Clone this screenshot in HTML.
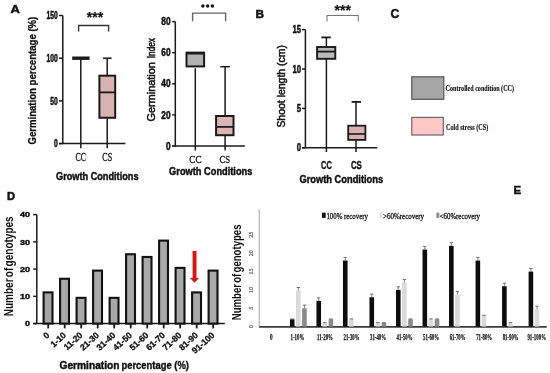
<!DOCTYPE html>
<html><head><meta charset="utf-8"><style>
html,body{margin:0;padding:0;background:#fff;}
svg{display:block;will-change:transform;filter:blur(0.35px);}
</style></head><body>
<svg width="550" height="373" viewBox="0 0 550 373">
<rect width="550" height="373" fill="#fff"/>
<text x="10.6" y="12.6" font-size="11.2" font-weight="bold" font-family='"Liberation Sans", sans-serif' text-anchor="start" fill="#111" textLength="9.4" lengthAdjust="spacingAndGlyphs" stroke="#111" stroke-width="0.45">A</text>
<line x1="62.8" y1="15.5" x2="62.8" y2="143.6" stroke="#1a1a1a" stroke-width="1.5" stroke-linecap="butt"/>
<line x1="59" y1="15.5" x2="62.8" y2="15.5" stroke="#1a1a1a" stroke-width="1.5" stroke-linecap="butt"/>
<text x="57.7" y="19.1" font-size="10.2" font-weight="bold" font-family='"Liberation Sans", sans-serif' text-anchor="end" fill="#111" textLength="11.25" lengthAdjust="spacingAndGlyphs" stroke="#111" stroke-width="0.5">150</text>
<line x1="59" y1="58.2" x2="62.8" y2="58.2" stroke="#1a1a1a" stroke-width="1.5" stroke-linecap="butt"/>
<text x="57.7" y="61.800000000000004" font-size="10.2" font-weight="bold" font-family='"Liberation Sans", sans-serif' text-anchor="end" fill="#111" textLength="11.25" lengthAdjust="spacingAndGlyphs" stroke="#111" stroke-width="0.5">100</text>
<line x1="59" y1="100.9" x2="62.8" y2="100.9" stroke="#1a1a1a" stroke-width="1.5" stroke-linecap="butt"/>
<text x="57.7" y="104.5" font-size="10.2" font-weight="bold" font-family='"Liberation Sans", sans-serif' text-anchor="end" fill="#111" textLength="7.5" lengthAdjust="spacingAndGlyphs" stroke="#111" stroke-width="0.5">50</text>
<line x1="59" y1="143.6" x2="62.8" y2="143.6" stroke="#1a1a1a" stroke-width="1.5" stroke-linecap="butt"/>
<text x="57.7" y="147.2" font-size="10.2" font-weight="bold" font-family='"Liberation Sans", sans-serif' text-anchor="end" fill="#111" textLength="3.75" lengthAdjust="spacingAndGlyphs" stroke="#111" stroke-width="0.5">0</text>
<line x1="59" y1="143.6" x2="125.4" y2="143.6" stroke="#1a1a1a" stroke-width="1.5" stroke-linecap="butt"/>
<line x1="80.8" y1="143.6" x2="80.8" y2="148.3" stroke="#1a1a1a" stroke-width="1.5" stroke-linecap="butt"/>
<line x1="107.2" y1="143.6" x2="107.2" y2="148.3" stroke="#1a1a1a" stroke-width="1.5" stroke-linecap="butt"/>
<line x1="80.8" y1="58.2" x2="80.8" y2="143.6" stroke="#1a1a1a" stroke-width="1.5" stroke-linecap="butt"/>
<line x1="72.2" y1="58.2" x2="89.6" y2="58.2" stroke="#1a1a1a" stroke-width="3.4" stroke-linecap="butt"/>
<line x1="107.2" y1="58.2" x2="107.2" y2="143.6" stroke="#1a1a1a" stroke-width="1.5" stroke-linecap="butt"/>
<line x1="103" y1="58.2" x2="111.6" y2="58.2" stroke="#1a1a1a" stroke-width="1.5" stroke-linecap="butt"/>
<rect x="99.4" y="75.68" width="15.8" height="42.09999999999999" fill="#dab2b2" stroke="#1a1a1a" stroke-width="2.0"/>
<line x1="99.4" y1="92.35999999999999" x2="115" y2="92.35999999999999" stroke="#1a1a1a" stroke-width="1.8" stroke-linecap="butt"/>
<path d="M78.6 31.5 V25.5 H108.6 V31.5" fill="none" stroke="#333" stroke-width="1.4"/>
<text x="95" y="22.3" font-size="14" font-weight="bold" font-family='"Liberation Sans", sans-serif' text-anchor="middle" fill="#111" stroke="#111" stroke-width="0.25">***</text>
<text x="35.9" y="144.5" font-size="11" font-weight="bold" font-family='"Liberation Sans", sans-serif' text-anchor="start" fill="#111" textLength="127.8" lengthAdjust="spacingAndGlyphs" transform="rotate(-90 35.9 144.5)" stroke="#111" stroke-width="0.3">Germination percentage (%)</text>
<text x="75.6" y="161" font-size="11.5" font-weight="normal" font-family='"Liberation Serif", serif' text-anchor="start" fill="#111" textLength="10.5" lengthAdjust="spacingAndGlyphs" stroke="#111" stroke-width="0.3">CC</text>
<text x="102.3" y="161" font-size="11.5" font-weight="normal" font-family='"Liberation Serif", serif' text-anchor="start" fill="#111" textLength="9.9" lengthAdjust="spacingAndGlyphs" stroke="#111" stroke-width="0.3">CS</text>
<text x="56" y="179.5" font-size="10.3" font-weight="bold" font-family='"Liberation Sans", sans-serif' text-anchor="start" fill="#111" textLength="82.5" lengthAdjust="spacingAndGlyphs" stroke="#111" stroke-width="0.45">Growth Conditions</text>
<line x1="175.3" y1="21.599999999999994" x2="175.3" y2="146.0" stroke="#1a1a1a" stroke-width="1.5" stroke-linecap="butt"/>
<line x1="172.2" y1="21.599999999999994" x2="175.3" y2="21.599999999999994" stroke="#1a1a1a" stroke-width="1.5" stroke-linecap="butt"/>
<text x="170.5" y="25.199999999999996" font-size="10.2" font-weight="bold" font-family='"Liberation Sans", sans-serif' text-anchor="end" fill="#111" textLength="9.2" lengthAdjust="spacingAndGlyphs" stroke="#111" stroke-width="0.5">80</text>
<line x1="172.2" y1="52.69999999999999" x2="175.3" y2="52.69999999999999" stroke="#1a1a1a" stroke-width="1.5" stroke-linecap="butt"/>
<text x="170.5" y="56.29999999999999" font-size="10.2" font-weight="bold" font-family='"Liberation Sans", sans-serif' text-anchor="end" fill="#111" textLength="9.2" lengthAdjust="spacingAndGlyphs" stroke="#111" stroke-width="0.5">60</text>
<line x1="172.2" y1="83.8" x2="175.3" y2="83.8" stroke="#1a1a1a" stroke-width="1.5" stroke-linecap="butt"/>
<text x="170.5" y="87.39999999999999" font-size="10.2" font-weight="bold" font-family='"Liberation Sans", sans-serif' text-anchor="end" fill="#111" textLength="9.2" lengthAdjust="spacingAndGlyphs" stroke="#111" stroke-width="0.5">40</text>
<line x1="172.2" y1="114.9" x2="175.3" y2="114.9" stroke="#1a1a1a" stroke-width="1.5" stroke-linecap="butt"/>
<text x="170.5" y="118.5" font-size="10.2" font-weight="bold" font-family='"Liberation Sans", sans-serif' text-anchor="end" fill="#111" textLength="9.2" lengthAdjust="spacingAndGlyphs" stroke="#111" stroke-width="0.5">20</text>
<line x1="172.2" y1="146.0" x2="175.3" y2="146.0" stroke="#1a1a1a" stroke-width="1.5" stroke-linecap="butt"/>
<text x="170.5" y="149.6" font-size="10.2" font-weight="bold" font-family='"Liberation Sans", sans-serif' text-anchor="end" fill="#111" textLength="4.6" lengthAdjust="spacingAndGlyphs" stroke="#111" stroke-width="0.5">0</text>
<line x1="172.2" y1="146.0" x2="244.8" y2="146.0" stroke="#1a1a1a" stroke-width="1.5" stroke-linecap="butt"/>
<line x1="195.3" y1="146.0" x2="195.3" y2="150.5" stroke="#1a1a1a" stroke-width="1.5" stroke-linecap="butt"/>
<line x1="225.1" y1="146.0" x2="225.1" y2="150.5" stroke="#1a1a1a" stroke-width="1.5" stroke-linecap="butt"/>
<line x1="195.3" y1="68.24999999999999" x2="195.3" y2="146.0" stroke="#1a1a1a" stroke-width="1.5" stroke-linecap="butt"/>
<rect x="186.5" y="52.69999999999999" width="17.6" height="13.700000000000017" fill="#b2b2b2" stroke="#1a1a1a" stroke-width="2.0"/>
<line x1="186.6" y1="53.19999999999999" x2="204.2" y2="53.19999999999999" stroke="#1a1a1a" stroke-width="2.6" stroke-linecap="butt"/>
<line x1="225.1" y1="66.695" x2="225.1" y2="146.0" stroke="#1a1a1a" stroke-width="1.5" stroke-linecap="butt"/>
<line x1="220.3" y1="66.695" x2="229.9" y2="66.695" stroke="#1a1a1a" stroke-width="1.5" stroke-linecap="butt"/>
<rect x="216.1" y="116.0" width="17.4" height="19.19999999999999" fill="#dcb4b4" stroke="#1a1a1a" stroke-width="2.0"/>
<line x1="216.2" y1="126.87349999999999" x2="233.6" y2="126.87349999999999" stroke="#1a1a1a" stroke-width="1.8" stroke-linecap="butt"/>
<path d="M192.6 21.2 V13.1 H225.6 V21.2" fill="none" stroke="#666" stroke-width="1.4"/>
<circle cx="202.9" cy="6" r="1.7" fill="#111"/><circle cx="207.7" cy="6" r="1.7" fill="#111"/><circle cx="212.4" cy="6" r="1.7" fill="#111"/>
<text x="155.3" y="121.6" font-size="10.2" font-weight="normal" font-family='"Liberation Sans", sans-serif' text-anchor="start" fill="#111" textLength="59.5" lengthAdjust="spacingAndGlyphs" transform="rotate(-90 155.3 121.6)" stroke="#111" stroke-width="0.5">Germination</text>
<text x="155.3" y="58.2" font-size="10.2" font-weight="normal" font-family='"Liberation Sans", sans-serif' text-anchor="start" fill="#111" textLength="20.2" lengthAdjust="spacingAndGlyphs" transform="rotate(-90 155.3 58.2)" stroke="#111" stroke-width="0.5">Index</text>
<text x="189.3" y="162.6" font-size="11" font-weight="normal" font-family='"Liberation Serif", serif' text-anchor="start" fill="#111" textLength="12.3" lengthAdjust="spacingAndGlyphs" stroke="#111" stroke-width="0.3">CC</text>
<text x="219.4" y="162.6" font-size="11" font-weight="normal" font-family='"Liberation Serif", serif' text-anchor="start" fill="#111" textLength="10.6" lengthAdjust="spacingAndGlyphs" stroke="#111" stroke-width="0.3">CS</text>
<text x="169.1" y="175.4" font-size="10.3" font-weight="bold" font-family='"Liberation Sans", sans-serif' text-anchor="start" fill="#111" textLength="83.3" lengthAdjust="spacingAndGlyphs" stroke="#111" stroke-width="0.45">Growth Conditions</text>
<text x="255.6" y="17.6" font-size="11.8" font-weight="bold" font-family='"Liberation Sans", sans-serif' text-anchor="start" fill="#111" stroke="#111" stroke-width="0.5">B</text>
<line x1="305.4" y1="29.599999999999994" x2="305.4" y2="147.8" stroke="#1a1a1a" stroke-width="1.5" stroke-linecap="butt"/>
<line x1="302" y1="29.599999999999994" x2="305.4" y2="29.599999999999994" stroke="#1a1a1a" stroke-width="1.5" stroke-linecap="butt"/>
<text x="301.0" y="33.199999999999996" font-size="10.2" font-weight="bold" font-family='"Liberation Sans", sans-serif' text-anchor="end" fill="#111" textLength="8.6" lengthAdjust="spacingAndGlyphs" stroke="#111" stroke-width="0.5">15</text>
<line x1="302" y1="69.0" x2="305.4" y2="69.0" stroke="#1a1a1a" stroke-width="1.5" stroke-linecap="butt"/>
<text x="301.0" y="72.6" font-size="10.2" font-weight="bold" font-family='"Liberation Sans", sans-serif' text-anchor="end" fill="#111" textLength="8.6" lengthAdjust="spacingAndGlyphs" stroke="#111" stroke-width="0.5">10</text>
<line x1="302" y1="108.4" x2="305.4" y2="108.4" stroke="#1a1a1a" stroke-width="1.5" stroke-linecap="butt"/>
<text x="301.0" y="112.0" font-size="10.2" font-weight="bold" font-family='"Liberation Sans", sans-serif' text-anchor="end" fill="#111" textLength="4.3" lengthAdjust="spacingAndGlyphs" stroke="#111" stroke-width="0.5">5</text>
<line x1="302" y1="147.8" x2="305.4" y2="147.8" stroke="#1a1a1a" stroke-width="1.5" stroke-linecap="butt"/>
<text x="301.0" y="151.4" font-size="10.2" font-weight="bold" font-family='"Liberation Sans", sans-serif' text-anchor="end" fill="#111" textLength="4.3" lengthAdjust="spacingAndGlyphs" stroke="#111" stroke-width="0.5">0</text>
<line x1="302" y1="147.8" x2="377.3" y2="147.8" stroke="#1a1a1a" stroke-width="1.5" stroke-linecap="butt"/>
<line x1="326.4" y1="147.8" x2="326.4" y2="152" stroke="#1a1a1a" stroke-width="1.5" stroke-linecap="butt"/>
<line x1="356.0" y1="147.8" x2="356.0" y2="152" stroke="#1a1a1a" stroke-width="1.5" stroke-linecap="butt"/>
<line x1="326.4" y1="37.480000000000004" x2="326.4" y2="147.8" stroke="#1a1a1a" stroke-width="1.5" stroke-linecap="butt"/>
<line x1="321.3" y1="37.4" x2="330.8" y2="37.4" stroke="#1a1a1a" stroke-width="1.8" stroke-linecap="butt"/>
<rect x="317.1" y="47.0" width="18.2" height="11.799999999999997" fill="#bababa" stroke="#1a1a1a" stroke-width="1.9"/>
<line x1="317.1" y1="51.6" x2="335.3" y2="51.6" stroke="#1a1a1a" stroke-width="1.8" stroke-linecap="butt"/>
<line x1="356.0" y1="101.9" x2="356.0" y2="147.8" stroke="#1a1a1a" stroke-width="1.5" stroke-linecap="butt"/>
<line x1="351.6" y1="101.9" x2="361.0" y2="101.9" stroke="#1a1a1a" stroke-width="1.8" stroke-linecap="butt"/>
<rect x="348.2" y="125.7" width="17.2" height="14.200000000000003" fill="#dab0b0" stroke="#1a1a1a" stroke-width="1.8"/>
<line x1="348.2" y1="134" x2="365.4" y2="134" stroke="#1a1a1a" stroke-width="1.6" stroke-linecap="butt"/>
<path d="M327 21.5 V15.5 H358.3 V21.5" fill="none" stroke="#777" stroke-width="1.1"/>
<text x="342.8" y="14.8" font-size="14" font-weight="bold" font-family='"Liberation Sans", sans-serif' text-anchor="middle" fill="#111" stroke="#111" stroke-width="0.2">***</text>
<text x="285.2" y="127.6" font-size="10.4" font-weight="normal" font-family='"Liberation Sans", sans-serif' text-anchor="start" fill="#111" textLength="82.6" lengthAdjust="spacingAndGlyphs" transform="rotate(-90 285.2 127.6)" stroke="#111" stroke-width="0.5">Shoot length (cm)</text>
<text x="321.0" y="168.6" font-size="10.2" font-weight="bold" font-family='"Liberation Sans", sans-serif' text-anchor="start" fill="#111" textLength="10.8" lengthAdjust="spacingAndGlyphs" stroke="#111" stroke-width="0.35">CC</text>
<text x="350.9" y="168.6" font-size="10.2" font-weight="bold" font-family='"Liberation Sans", sans-serif' text-anchor="start" fill="#111" textLength="10.8" lengthAdjust="spacingAndGlyphs" stroke="#111" stroke-width="0.35">CS</text>
<text x="299.5" y="183.2" font-size="10.3" font-weight="bold" font-family='"Liberation Sans", sans-serif' text-anchor="start" fill="#111" textLength="83.6" lengthAdjust="spacingAndGlyphs" stroke="#111" stroke-width="0.45">Growth Conditions</text>
<text x="390.4" y="17.6" font-size="12.2" font-weight="bold" font-family='"Liberation Sans", sans-serif' text-anchor="start" fill="#111" stroke="#111" stroke-width="0.5">C</text>
<rect x="411.8" y="76.8" width="32" height="22.5" fill="#a6a6a6" stroke="#555" stroke-width="1.2"/>
<rect x="411.8" y="117.4" width="31.5" height="17.6" fill="#ffc8c8" stroke="#666" stroke-width="1.2"/>
<text x="445.6" y="91" font-size="9" font-weight="bold" font-family='"Liberation Serif", serif' text-anchor="start" fill="#111" textLength="68.4" lengthAdjust="spacingAndGlyphs" stroke="#111" stroke-width="0.15">Controlled condition (CC)</text>
<text x="446" y="129.7" font-size="9" font-weight="bold" font-family='"Liberation Serif", serif' text-anchor="start" fill="#111" textLength="42.2" lengthAdjust="spacingAndGlyphs" stroke="#111" stroke-width="0.15">Cold stress (CS)</text>
<text x="7.0" y="199.6" font-size="11.2" font-weight="bold" font-family='"Liberation Sans", sans-serif' text-anchor="start" fill="#111" stroke="#111" stroke-width="0.5">D</text>
<line x1="36.8" y1="214.6" x2="36.8" y2="323.6" stroke="#1a1a1a" stroke-width="1.5" stroke-linecap="butt"/>
<line x1="33.2" y1="214.6" x2="36.8" y2="214.6" stroke="#1a1a1a" stroke-width="1.5" stroke-linecap="butt"/>
<text x="30" y="217.29999999999998" font-size="7.6" font-weight="bold" font-family='"Liberation Sans", sans-serif' text-anchor="end" fill="#111" textLength="10.0" lengthAdjust="spacingAndGlyphs" stroke="#111" stroke-width="0.45">40</text>
<line x1="33.2" y1="241.85000000000002" x2="36.8" y2="241.85000000000002" stroke="#1a1a1a" stroke-width="1.5" stroke-linecap="butt"/>
<text x="30" y="244.55" font-size="7.6" font-weight="bold" font-family='"Liberation Sans", sans-serif' text-anchor="end" fill="#111" textLength="10.0" lengthAdjust="spacingAndGlyphs" stroke="#111" stroke-width="0.45">30</text>
<line x1="33.2" y1="269.1" x2="36.8" y2="269.1" stroke="#1a1a1a" stroke-width="1.5" stroke-linecap="butt"/>
<text x="30" y="271.8" font-size="7.6" font-weight="bold" font-family='"Liberation Sans", sans-serif' text-anchor="end" fill="#111" textLength="10.0" lengthAdjust="spacingAndGlyphs" stroke="#111" stroke-width="0.45">20</text>
<line x1="33.2" y1="296.35" x2="36.8" y2="296.35" stroke="#1a1a1a" stroke-width="1.5" stroke-linecap="butt"/>
<text x="30" y="299.05" font-size="7.6" font-weight="bold" font-family='"Liberation Sans", sans-serif' text-anchor="end" fill="#111" textLength="10.0" lengthAdjust="spacingAndGlyphs" stroke="#111" stroke-width="0.45">10</text>
<line x1="33.2" y1="323.6" x2="36.8" y2="323.6" stroke="#1a1a1a" stroke-width="1.5" stroke-linecap="butt"/>
<text x="30" y="326.3" font-size="7.6" font-weight="bold" font-family='"Liberation Sans", sans-serif' text-anchor="end" fill="#111" textLength="5.0" lengthAdjust="spacingAndGlyphs" stroke="#111" stroke-width="0.45">0</text>
<line x1="33.2" y1="323.6" x2="224.8" y2="323.6" stroke="#1a1a1a" stroke-width="1.5" stroke-linecap="butt"/>
<rect x="43.6" y="292.40000000000003" width="8.9" height="31.19999999999999" fill="#a4a4a4" stroke="#111" stroke-width="2.1"/>
<line x1="48.199999999999996" y1="323.6" x2="48.199999999999996" y2="328.4" stroke="#1a1a1a" stroke-width="1.8" stroke-linecap="butt"/>
<text x="50.199999999999996" y="336.0" font-size="8.7" font-weight="bold" font-family='"Liberation Sans", sans-serif' text-anchor="end" fill="#111" transform="rotate(-42 50.199999999999996 336.0)" stroke="#111" stroke-width="0.3">0</text>
<rect x="60.1" y="278.77500000000003" width="8.9" height="44.82499999999999" fill="#a9a9a9" stroke="#111" stroke-width="2.1"/>
<line x1="64.7" y1="323.6" x2="64.7" y2="328.4" stroke="#1a1a1a" stroke-width="1.8" stroke-linecap="butt"/>
<text x="66.7" y="336.0" font-size="8.7" font-weight="bold" font-family='"Liberation Sans", sans-serif' text-anchor="end" fill="#111" transform="rotate(-42 66.7 336.0)" stroke="#111" stroke-width="0.3">1-10</text>
<rect x="76.60000000000001" y="297.85" width="8.9" height="25.75" fill="#a9a9a9" stroke="#111" stroke-width="2.1"/>
<line x1="81.2" y1="323.6" x2="81.2" y2="328.4" stroke="#1a1a1a" stroke-width="1.8" stroke-linecap="butt"/>
<text x="83.2" y="336.0" font-size="8.7" font-weight="bold" font-family='"Liberation Sans", sans-serif' text-anchor="end" fill="#111" transform="rotate(-42 83.2 336.0)" stroke="#111" stroke-width="0.3">11-20</text>
<rect x="93.10000000000001" y="270.6" width="8.9" height="53.0" fill="#a9a9a9" stroke="#111" stroke-width="2.1"/>
<line x1="97.7" y1="323.6" x2="97.7" y2="328.4" stroke="#1a1a1a" stroke-width="1.8" stroke-linecap="butt"/>
<text x="99.7" y="336.0" font-size="8.7" font-weight="bold" font-family='"Liberation Sans", sans-serif' text-anchor="end" fill="#111" transform="rotate(-42 99.7 336.0)" stroke="#111" stroke-width="0.3">21-30</text>
<rect x="109.60000000000001" y="297.85" width="8.9" height="25.75" fill="#a9a9a9" stroke="#111" stroke-width="2.1"/>
<line x1="114.2" y1="323.6" x2="114.2" y2="328.4" stroke="#1a1a1a" stroke-width="1.8" stroke-linecap="butt"/>
<text x="116.2" y="336.0" font-size="8.7" font-weight="bold" font-family='"Liberation Sans", sans-serif' text-anchor="end" fill="#111" transform="rotate(-42 116.2 336.0)" stroke="#111" stroke-width="0.3">31-40</text>
<rect x="126.10000000000001" y="254.25" width="8.9" height="69.35000000000002" fill="#a9a9a9" stroke="#111" stroke-width="2.1"/>
<line x1="130.70000000000002" y1="323.6" x2="130.70000000000002" y2="328.4" stroke="#1a1a1a" stroke-width="1.8" stroke-linecap="butt"/>
<text x="132.70000000000002" y="336.0" font-size="8.7" font-weight="bold" font-family='"Liberation Sans", sans-serif' text-anchor="end" fill="#111" transform="rotate(-42 132.70000000000002 336.0)" stroke="#111" stroke-width="0.3">41-50</text>
<rect x="142.6" y="256.975" width="8.9" height="66.625" fill="#a9a9a9" stroke="#111" stroke-width="2.1"/>
<line x1="147.20000000000002" y1="323.6" x2="147.20000000000002" y2="328.4" stroke="#1a1a1a" stroke-width="1.8" stroke-linecap="butt"/>
<text x="149.20000000000002" y="336.0" font-size="8.7" font-weight="bold" font-family='"Liberation Sans", sans-serif' text-anchor="end" fill="#111" transform="rotate(-42 149.20000000000002 336.0)" stroke="#111" stroke-width="0.3">51-60</text>
<rect x="159.1" y="240.625" width="8.9" height="82.97500000000002" fill="#a9a9a9" stroke="#111" stroke-width="2.1"/>
<line x1="163.70000000000002" y1="323.6" x2="163.70000000000002" y2="328.4" stroke="#1a1a1a" stroke-width="1.8" stroke-linecap="butt"/>
<text x="165.70000000000002" y="336.0" font-size="8.7" font-weight="bold" font-family='"Liberation Sans", sans-serif' text-anchor="end" fill="#111" transform="rotate(-42 165.70000000000002 336.0)" stroke="#111" stroke-width="0.3">61-70</text>
<rect x="175.6" y="267.875" width="8.9" height="55.72500000000002" fill="#a9a9a9" stroke="#111" stroke-width="2.1"/>
<line x1="180.20000000000002" y1="323.6" x2="180.20000000000002" y2="328.4" stroke="#1a1a1a" stroke-width="1.8" stroke-linecap="butt"/>
<text x="182.20000000000002" y="336.0" font-size="8.7" font-weight="bold" font-family='"Liberation Sans", sans-serif' text-anchor="end" fill="#111" transform="rotate(-42 182.20000000000002 336.0)" stroke="#111" stroke-width="0.3">71-80</text>
<rect x="192.1" y="292.40000000000003" width="8.9" height="31.19999999999999" fill="#a9a9a9" stroke="#111" stroke-width="2.1"/>
<line x1="196.70000000000002" y1="323.6" x2="196.70000000000002" y2="328.4" stroke="#1a1a1a" stroke-width="1.8" stroke-linecap="butt"/>
<text x="198.70000000000002" y="336.0" font-size="8.7" font-weight="bold" font-family='"Liberation Sans", sans-serif' text-anchor="end" fill="#111" transform="rotate(-42 198.70000000000002 336.0)" stroke="#111" stroke-width="0.3">81-90</text>
<rect x="208.6" y="270.6" width="8.9" height="53.0" fill="#a9a9a9" stroke="#111" stroke-width="2.1"/>
<line x1="213.20000000000002" y1="323.6" x2="213.20000000000002" y2="328.4" stroke="#1a1a1a" stroke-width="1.8" stroke-linecap="butt"/>
<text x="215.20000000000002" y="336.0" font-size="8.7" font-weight="bold" font-family='"Liberation Sans", sans-serif' text-anchor="end" fill="#111" transform="rotate(-42 215.20000000000002 336.0)" stroke="#111" stroke-width="0.3">91-100</text>
<path d="M192.6 251 H196.5 V277.9 H199 L194.5 282.8 L190 277.9 H192.6 Z" fill="#e41010"/>
<text x="13.3" y="316.3" font-size="12" font-weight="bold" font-family='"Liberation Sans", sans-serif' text-anchor="start" fill="#111" textLength="100" lengthAdjust="spacingAndGlyphs" transform="rotate(-90 13.3 316.3)" word-spacing="-1.8">Number of genotypes</text>
<text x="59.5" y="369" font-size="10.6" font-weight="bold" font-family='"Liberation Sans", sans-serif' text-anchor="start" fill="#111" textLength="60" lengthAdjust="spacingAndGlyphs" stroke="#111" stroke-width="0.45">Germination</text>
<text x="121.4" y="369" font-size="10" font-weight="bold" font-family='"Liberation Sans", sans-serif' text-anchor="start" fill="#111" textLength="67.6" lengthAdjust="spacingAndGlyphs" stroke="#111" stroke-width="0.35">percentage (%)</text>
<text x="513.4" y="194.3" font-size="11.4" font-weight="bold" font-family='"Liberation Sans", sans-serif' text-anchor="start" fill="#111" stroke="#111" stroke-width="0.5">E</text>
<line x1="259.2" y1="209.3" x2="259.2" y2="326.8" stroke="#999" stroke-width="0.9" stroke-linecap="butt"/>
<line x1="259.2" y1="326.9" x2="546.8" y2="326.9" stroke="#3a3a3a" stroke-width="1.6" stroke-linecap="butt"/>
<text x="253.3" y="326.6" font-size="6" font-weight="normal" font-family='"Liberation Serif", serif' text-anchor="middle" fill="#555" transform="rotate(-90 253.3 326.6)" stroke="#555" stroke-width="0.2">0</text>
<text x="253.3" y="308.25" font-size="6" font-weight="normal" font-family='"Liberation Serif", serif' text-anchor="middle" fill="#555" transform="rotate(-90 253.3 308.25)" stroke="#555" stroke-width="0.2">5</text>
<text x="253.3" y="289.90000000000003" font-size="6" font-weight="normal" font-family='"Liberation Serif", serif' text-anchor="middle" fill="#555" transform="rotate(-90 253.3 289.90000000000003)" stroke="#555" stroke-width="0.2">10</text>
<text x="253.3" y="271.55" font-size="6" font-weight="normal" font-family='"Liberation Serif", serif' text-anchor="middle" fill="#555" transform="rotate(-90 253.3 271.55)" stroke="#555" stroke-width="0.2">15</text>
<text x="253.3" y="253.20000000000002" font-size="6" font-weight="normal" font-family='"Liberation Serif", serif' text-anchor="middle" fill="#555" transform="rotate(-90 253.3 253.20000000000002)" stroke="#555" stroke-width="0.2">20</text>
<text x="253.3" y="234.85000000000002" font-size="6" font-weight="normal" font-family='"Liberation Serif", serif' text-anchor="middle" fill="#555" transform="rotate(-90 253.3 234.85000000000002)" stroke="#555" stroke-width="0.2">25</text>
<text x="241.1" y="320.2" font-size="12" font-weight="bold" font-family='"Liberation Sans", sans-serif' text-anchor="start" fill="#111" textLength="95.7" lengthAdjust="spacingAndGlyphs" transform="rotate(-90 241.1 320.2)" word-spacing="-1.8">Number of genotypes</text>
<rect x="322" y="212.7" width="3.7" height="5.2" fill="#111"/>
<text x="326.4" y="218.6" font-size="8.3" font-weight="normal" font-family='"Liberation Serif", serif' text-anchor="start" fill="#111" textLength="41.5" lengthAdjust="spacingAndGlyphs" stroke="#111" stroke-width="0.3">100% recovery</text>
<rect x="379.4" y="212.7" width="3.3" height="5.2" fill="#e0e0e0"/>
<text x="383.1" y="218.6" font-size="8.3" font-weight="normal" font-family='"Liberation Serif", serif' text-anchor="start" fill="#111" textLength="41" lengthAdjust="spacingAndGlyphs" stroke="#111" stroke-width="0.3">&gt;60%recovery</text>
<rect x="436.4" y="212.7" width="2.9" height="5.2" fill="#888"/>
<text x="439.7" y="218.6" font-size="8.3" font-weight="normal" font-family='"Liberation Serif", serif' text-anchor="start" fill="#111" textLength="40.3" lengthAdjust="spacingAndGlyphs" stroke="#111" stroke-width="0.3">&lt;60%recovery</text>
<text x="271.3" y="340.3" font-size="8.6" font-weight="bold" font-family='"Liberation Serif", serif' text-anchor="middle" fill="#111" textLength="2.6" lengthAdjust="spacingAndGlyphs" stroke="#111" stroke-width="0.25">0</text>
<rect x="289.91999999999996" y="319.26000000000005" width="4.6" height="7.339999999999975" fill="#0d0d0d"/>
<line x1="290.52" y1="318.96000000000004" x2="293.91999999999996" y2="318.96000000000004" stroke="#666" stroke-width="1.0" stroke-linecap="butt"/>
<rect x="296.02" y="290.634" width="4.6" height="35.96600000000001" fill="#dadada"/>
<line x1="298.32" y1="290.634" x2="298.32" y2="287.5145" stroke="#666" stroke-width="0.8" stroke-linecap="butt"/>
<line x1="296.62" y1="287.5145" x2="300.02" y2="287.5145" stroke="#666" stroke-width="0.9" stroke-linecap="butt"/>
<rect x="302.11999999999995" y="308.25" width="4.6" height="18.350000000000023" fill="#8a8a8a"/>
<line x1="304.41999999999996" y1="308.25" x2="304.41999999999996" y2="305.13050000000004" stroke="#666" stroke-width="0.8" stroke-linecap="butt"/>
<line x1="302.71999999999997" y1="305.13050000000004" x2="306.11999999999995" y2="305.13050000000004" stroke="#666" stroke-width="0.9" stroke-linecap="butt"/>
<text x="290.52" y="340.3" font-size="8.6" font-weight="bold" font-family='"Liberation Serif", serif' text-anchor="start" fill="#111" textLength="13.9" lengthAdjust="spacingAndGlyphs" stroke="#111" stroke-width="0.25">1-10%</text>
<rect x="316.44" y="300.91" width="4.6" height="25.689999999999998" fill="#0d0d0d"/>
<line x1="318.74" y1="300.91" x2="318.74" y2="297.7905" stroke="#666" stroke-width="0.8" stroke-linecap="butt"/>
<line x1="317.04" y1="297.7905" x2="320.44" y2="297.7905" stroke="#666" stroke-width="0.9" stroke-linecap="butt"/>
<rect x="322.54" y="322.93" width="4.6" height="3.670000000000016" fill="#dadada"/>
<line x1="323.14000000000004" y1="322.63" x2="326.54" y2="322.63" stroke="#666" stroke-width="1.0" stroke-linecap="butt"/>
<rect x="328.64" y="319.26000000000005" width="4.6" height="7.339999999999975" fill="#8a8a8a"/>
<line x1="329.24" y1="318.96000000000004" x2="332.64" y2="318.96000000000004" stroke="#666" stroke-width="1.0" stroke-linecap="butt"/>
<text x="317.04" y="340.3" font-size="8.6" font-weight="bold" font-family='"Liberation Serif", serif' text-anchor="start" fill="#111" textLength="15.9" lengthAdjust="spacingAndGlyphs" stroke="#111" stroke-width="0.25">11-20%</text>
<rect x="342.96" y="260.54" width="4.6" height="66.06" fill="#0d0d0d"/>
<line x1="345.26" y1="260.54" x2="345.26" y2="257.4205" stroke="#666" stroke-width="0.8" stroke-linecap="butt"/>
<line x1="343.56" y1="257.4205" x2="346.96" y2="257.4205" stroke="#666" stroke-width="0.9" stroke-linecap="butt"/>
<rect x="349.06" y="319.26000000000005" width="4.6" height="7.339999999999975" fill="#dadada"/>
<line x1="349.66" y1="318.96000000000004" x2="353.06" y2="318.96000000000004" stroke="#666" stroke-width="1.0" stroke-linecap="butt"/>
<text x="343.56" y="340.3" font-size="8.6" font-weight="bold" font-family='"Liberation Serif", serif' text-anchor="start" fill="#111" textLength="15.9" lengthAdjust="spacingAndGlyphs" stroke="#111" stroke-width="0.25">21-30%</text>
<rect x="369.47999999999996" y="297.24" width="4.6" height="29.360000000000014" fill="#0d0d0d"/>
<line x1="371.78" y1="297.24" x2="371.78" y2="294.1205" stroke="#666" stroke-width="0.8" stroke-linecap="butt"/>
<line x1="370.08" y1="294.1205" x2="373.47999999999996" y2="294.1205" stroke="#666" stroke-width="0.9" stroke-linecap="butt"/>
<rect x="375.58" y="322.93" width="4.6" height="3.670000000000016" fill="#dadada"/>
<line x1="376.18" y1="322.63" x2="379.58" y2="322.63" stroke="#666" stroke-width="1.0" stroke-linecap="butt"/>
<rect x="381.67999999999995" y="322.93" width="4.6" height="3.670000000000016" fill="#8a8a8a"/>
<line x1="382.28" y1="322.63" x2="385.67999999999995" y2="322.63" stroke="#666" stroke-width="1.0" stroke-linecap="butt"/>
<text x="370.08" y="340.3" font-size="8.6" font-weight="bold" font-family='"Liberation Serif", serif' text-anchor="start" fill="#111" textLength="15.9" lengthAdjust="spacingAndGlyphs" stroke="#111" stroke-width="0.25">31-40%</text>
<rect x="396.0" y="289.90000000000003" width="4.6" height="36.69999999999999" fill="#0d0d0d"/>
<line x1="398.3" y1="289.90000000000003" x2="398.3" y2="286.7805" stroke="#666" stroke-width="0.8" stroke-linecap="butt"/>
<line x1="396.6" y1="286.7805" x2="400.0" y2="286.7805" stroke="#666" stroke-width="0.9" stroke-linecap="butt"/>
<rect x="402.1" y="282.56" width="4.6" height="44.04000000000002" fill="#dadada"/>
<line x1="404.40000000000003" y1="282.56" x2="404.40000000000003" y2="279.44050000000004" stroke="#666" stroke-width="0.8" stroke-linecap="butt"/>
<line x1="402.70000000000005" y1="279.44050000000004" x2="406.1" y2="279.44050000000004" stroke="#666" stroke-width="0.9" stroke-linecap="butt"/>
<rect x="408.2" y="319.26000000000005" width="4.6" height="7.339999999999975" fill="#8a8a8a"/>
<line x1="408.8" y1="318.96000000000004" x2="412.2" y2="318.96000000000004" stroke="#666" stroke-width="1.0" stroke-linecap="butt"/>
<text x="396.6" y="340.3" font-size="8.6" font-weight="bold" font-family='"Liberation Serif", serif' text-anchor="start" fill="#111" textLength="15.9" lengthAdjust="spacingAndGlyphs" stroke="#111" stroke-width="0.25">41-50%</text>
<rect x="422.52" y="249.53000000000003" width="4.6" height="77.07" fill="#0d0d0d"/>
<line x1="424.82" y1="249.53000000000003" x2="424.82" y2="246.4105" stroke="#666" stroke-width="0.8" stroke-linecap="butt"/>
<line x1="423.12" y1="246.4105" x2="426.52" y2="246.4105" stroke="#666" stroke-width="0.9" stroke-linecap="butt"/>
<rect x="428.62" y="319.26000000000005" width="4.6" height="7.339999999999975" fill="#dadada"/>
<line x1="429.22" y1="318.96000000000004" x2="432.62" y2="318.96000000000004" stroke="#666" stroke-width="1.0" stroke-linecap="butt"/>
<rect x="434.71999999999997" y="319.26000000000005" width="4.6" height="7.339999999999975" fill="#8a8a8a"/>
<line x1="435.32" y1="318.96000000000004" x2="438.71999999999997" y2="318.96000000000004" stroke="#666" stroke-width="1.0" stroke-linecap="butt"/>
<text x="423.12" y="340.3" font-size="8.6" font-weight="bold" font-family='"Liberation Serif", serif' text-anchor="start" fill="#111" textLength="15.9" lengthAdjust="spacingAndGlyphs" stroke="#111" stroke-width="0.25">51-60%</text>
<rect x="449.03999999999996" y="245.86" width="4.6" height="80.74000000000001" fill="#0d0d0d"/>
<line x1="451.34" y1="245.86" x2="451.34" y2="242.74050000000003" stroke="#666" stroke-width="0.8" stroke-linecap="butt"/>
<line x1="449.64" y1="242.74050000000003" x2="453.03999999999996" y2="242.74050000000003" stroke="#666" stroke-width="0.9" stroke-linecap="butt"/>
<rect x="455.14" y="294.67100000000005" width="4.6" height="31.928999999999974" fill="#dadada"/>
<line x1="457.44" y1="294.67100000000005" x2="457.44" y2="291.55150000000003" stroke="#666" stroke-width="0.8" stroke-linecap="butt"/>
<line x1="455.74" y1="291.55150000000003" x2="459.14" y2="291.55150000000003" stroke="#666" stroke-width="0.9" stroke-linecap="butt"/>
<text x="449.64" y="340.3" font-size="8.6" font-weight="bold" font-family='"Liberation Serif", serif' text-anchor="start" fill="#111" textLength="15.9" lengthAdjust="spacingAndGlyphs" stroke="#111" stroke-width="0.25">61-70%</text>
<rect x="475.55999999999995" y="260.54" width="4.6" height="66.06" fill="#0d0d0d"/>
<line x1="477.85999999999996" y1="260.54" x2="477.85999999999996" y2="257.4205" stroke="#666" stroke-width="0.8" stroke-linecap="butt"/>
<line x1="476.15999999999997" y1="257.4205" x2="479.55999999999995" y2="257.4205" stroke="#666" stroke-width="0.9" stroke-linecap="butt"/>
<rect x="481.65999999999997" y="315.59000000000003" width="4.6" height="11.009999999999991" fill="#dadada"/>
<line x1="482.26" y1="315.29" x2="485.65999999999997" y2="315.29" stroke="#666" stroke-width="1.0" stroke-linecap="butt"/>
<text x="476.15999999999997" y="340.3" font-size="8.6" font-weight="bold" font-family='"Liberation Serif", serif' text-anchor="start" fill="#111" textLength="15.9" lengthAdjust="spacingAndGlyphs" stroke="#111" stroke-width="0.25">71-80%</text>
<rect x="502.08" y="286.23" width="4.6" height="40.370000000000005" fill="#0d0d0d"/>
<line x1="504.38" y1="286.23" x2="504.38" y2="283.1105" stroke="#666" stroke-width="0.8" stroke-linecap="butt"/>
<line x1="502.68" y1="283.1105" x2="506.08" y2="283.1105" stroke="#666" stroke-width="0.9" stroke-linecap="butt"/>
<rect x="508.18" y="322.93" width="4.6" height="3.670000000000016" fill="#dadada"/>
<line x1="508.78000000000003" y1="322.63" x2="512.1800000000001" y2="322.63" stroke="#666" stroke-width="1.0" stroke-linecap="butt"/>
<text x="502.68" y="340.3" font-size="8.6" font-weight="bold" font-family='"Liberation Serif", serif' text-anchor="start" fill="#111" textLength="15.9" lengthAdjust="spacingAndGlyphs" stroke="#111" stroke-width="0.25">81-90%</text>
<rect x="528.5999999999999" y="271.55" width="4.6" height="55.05000000000001" fill="#0d0d0d"/>
<line x1="530.8999999999999" y1="271.55" x2="530.8999999999999" y2="268.43050000000005" stroke="#666" stroke-width="0.8" stroke-linecap="butt"/>
<line x1="529.1999999999999" y1="268.43050000000005" x2="532.5999999999999" y2="268.43050000000005" stroke="#666" stroke-width="0.9" stroke-linecap="butt"/>
<rect x="534.6999999999999" y="309.351" width="4.6" height="17.249000000000024" fill="#dadada"/>
<line x1="536.9999999999999" y1="309.351" x2="536.9999999999999" y2="306.23150000000004" stroke="#666" stroke-width="0.8" stroke-linecap="butt"/>
<line x1="535.3" y1="306.23150000000004" x2="538.6999999999999" y2="306.23150000000004" stroke="#666" stroke-width="0.9" stroke-linecap="butt"/>
<text x="527.3999999999999" y="340.3" font-size="8.6" font-weight="bold" font-family='"Liberation Serif", serif' text-anchor="start" fill="#111" textLength="18.6" lengthAdjust="spacingAndGlyphs" stroke="#111" stroke-width="0.25">91-100%</text>
</svg>
</body></html>
